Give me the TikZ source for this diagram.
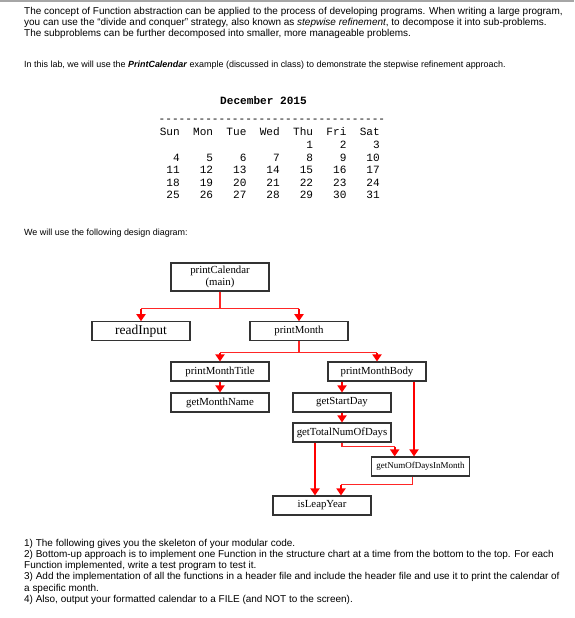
\documentclass[tikz,border=0pt]{standalone}
\usepackage{fontspec}
\setmainfont{Liberation Sans}
\newfontfamily\seriffont{Liberation Serif}
\newfontfamily\monofont{Liberation Mono}
\usetikzlibrary{arrows.meta}
\begin{document}
\begin{tikzpicture}[x=1pt,y=-1pt,
 fbox/.style={draw=black!80, line width=1.1pt, minimum width=98pt, minimum height=19pt, inner sep=0pt, font=\seriffont\fontsize{10.8}{12}\selectfont, align=center},
 thinred/.style={draw=red!85, line width=1.1pt},
 arr/.style={draw=red, line width=2.3pt, -{Triangle[width=9pt,length=7pt]}},
 ptext/.style={anchor=base west, inner sep=0pt, font=\fontsize{9.97}{11}\selectfont},
 stext/.style={anchor=base west, inner sep=0pt, font=\fontsize{8.95}{9}\selectfont},
 cal/.style={anchor=base east, inner sep=0pt, font=\monofont\fontsize{11.1}{12}\selectfont}]
\useasboundingbox (0,0) rectangle (574,618);
\fill[white] (0,0) rectangle (574,618);
\fill[gray!70] (0,0) rectangle (574,2);
% text
\node[ptext] (t1) at (24,14.7) {The concept of Function abstraction can be applied to the process of developing programs. When writing a large program,};
\node[ptext] (t2) at (24,25.7) {you can use the “divide and conquer” strategy, also known as \textit{stepwise refinement}, to decompose it into sub-problems.};
\node[ptext] (t3) at (24,36.7) {The subproblems can be further decomposed into smaller, more manageable problems.};
\node[stext] (t4) at (24,67) {In this lab, we will use the \textbf{\textit{PrintCalendar}} example (discussed in class) to demonstrate the stepwise refinement approach.};
\node[stext] (t5) at (24,235.8) {We will use the following design diagram:};
\node[ptext] (b1t) at (24,546) {1) The following gives you the skeleton of your modular code.};
\node[ptext] (b2t) at (24,557.3) {2) Bottom-up approach is to implement one Function in the structure chart at a time from the bottom to the top. For each};
\node[ptext] (b3t) at (24,568.5) {Function implemented, write a test program to test it.};
\node[ptext] (b4t) at (24,579.7) {3) Add the implementation of all the functions in a header file and include the header file and use it to print the calendar of};
\node[ptext] (b5t) at (24,591) {a specific month.};
\node[ptext] (b6t) at (24,602.3) {4) Also, output your formatted calendar to a FILE (and NOT to the screen).};
% calendar
\node[cal, anchor=base west, font=\monofont\bfseries\fontsize{11.1}{12}\selectfont] (title) at (220,104.4) {December 2015};
\node[cal, anchor=base west] (dash) at (158.5,122) {----------------------------------};
\foreach \n [count=\i from 0] in {Sun,Mon,Tue,Wed,Thu,Fri,Sat}
  \node[cal] (h\i) at ({180+33.333*\i},135.5) {\n};
\foreach \d in {1,...,31}{
  \pgfmathtruncatemacro{\c}{mod(\d+3,7)}
  \pgfmathtruncatemacro{\r}{(\d+3)/7}
  \node[cal] (d\d) at ({180+33.333*\c},{148.7+12.5*\r}) {\d};
}
% boxes
\node[fbox, minimum height=28pt] (pc) at (220,277) {printCalendar\\(main)};
\node[fbox, minimum height=18.5pt, font=\seriffont\fontsize{13.5}{14}\selectfont] (ri) at (141,331) {readInput};
\node[fbox, minimum height=18.5pt] (pm) at (299,331) {printMonth};
\node[fbox] (pmt) at (220,371.5) {printMonthTitle};
\node[fbox] (pmb) at (377,371.5) {printMonthBody};
\node[fbox] (gmn) at (220,402.5) {getMonthName};
\node[fbox] (gsd) at (342,402.5) {getStartDay};
\node[fbox] (gtd) at (342,432.5) {getTotalNumOfDays};
\node[fbox, font=\seriffont\fontsize{9}{10}\selectfont] (gnd) at (420.5,466.5) {getNumOfDaysInMonth};
\node[fbox] (ily) at (322,505.5) {isLeapYear};
% connectors
\draw[thinred] (pc.south) -- ++(0,17) coordinate (k1);
\draw[thinred] (k1 -| ri.north) -- (k1 -| pm.north);
\draw[arr] (k1 -| ri.north) -- (ri.north);
\draw[arr] (k1 -| pm.north) -- (pm.north);
\draw[thinred] (pm.south) -- ++(0,12) coordinate (k2);
\draw[thinred] (k2 -| pmt.north) -- (k2 -| pmb.north);
\draw[arr] (k2 -| pmt.north) -- (pmt.north);
\draw[arr] (k2 -| pmb.north) -- (pmb.north);
\draw[arr] (pmt.south) -- (gmn.north);
\draw[arr] (pmb.south -| gsd.north) -- (gsd.north);
\path ([xshift=-6.5pt]gnd.north) coordinate (g0);
\draw[arr] (pmb.south -| g0) -- (g0);
\draw[arr] (gsd.south) -- (gtd.north);
\path ([xshift=-25.8pt]gnd.north) coordinate (g1);
\draw[thinred] (gtd.south) -- ++(0,4) coordinate (k3) -- (k3 -| g1);
\draw[arr] (k3 -| g1) -- (g1);
\path ([xshift=-7pt]ily.north) coordinate (i1);
\draw[arr] (gtd.south -| i1) -- (i1);
\path ([xshift=-7.8pt]gnd.south) coordinate (g2);
\path ([xshift=19pt]ily.north) coordinate (i2);
\draw[thinred] (g2) -- ++(0,8) coordinate (k4) -- (k4 -| i2);
\draw[arr] (k4 -| i2) -- (i2);
\end{tikzpicture}
\end{document}
